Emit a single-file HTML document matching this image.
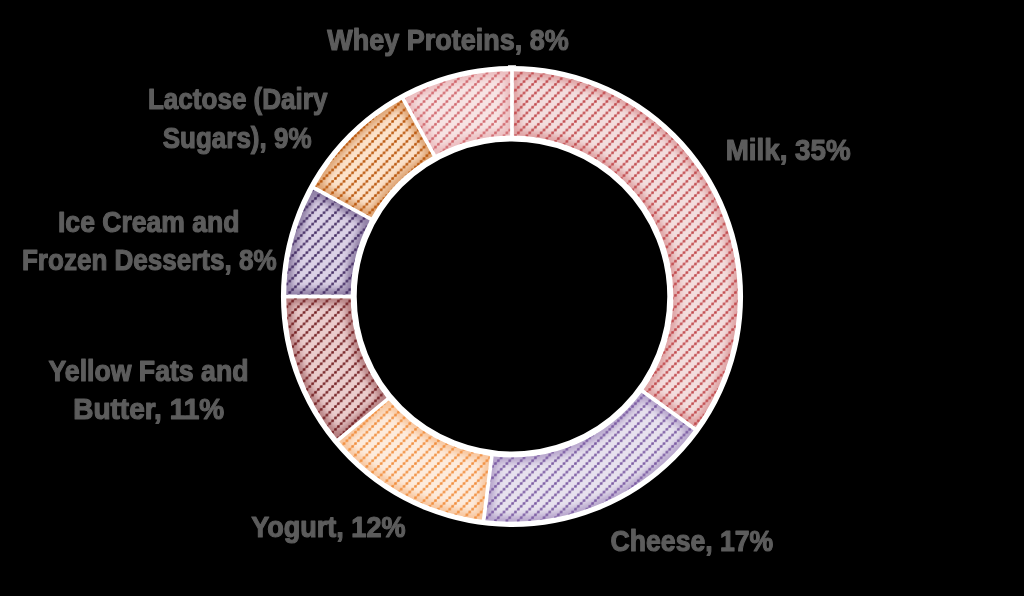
<!DOCTYPE html>
<html><head><meta charset="utf-8"><title>Chart</title>
<style>
html,body{margin:0;padding:0;background:#000;}
body{width:1024px;height:596px;overflow:hidden;}
svg{display:block;}
text{font-family:"Liberation Sans",sans-serif;font-weight:bold;font-size:30px;fill:#5c5c5c;stroke:#5c5c5c;stroke-width:1.2px;stroke-linejoin:round;}
</style></head><body>
<svg width="1024" height="596" viewBox="0 0 1024 596">
<defs>
<pattern id="p-milk" width="11.415" height="11.415" patternUnits="userSpaceOnUse" patternTransform="translate(733.77 282.51)"><path d="M-1.00 12.41L12.41 -1.00" stroke="#c0474a" stroke-width="1.3" opacity="0.38"/><rect x="0.18" y="8.74" width="2.50" height="2.50" rx="0.35" fill="#c0474a"/><rect x="3.03" y="5.88" width="2.50" height="2.50" rx="0.35" fill="#c0474a"/><rect x="5.88" y="3.03" width="2.50" height="2.50" rx="0.35" fill="#c0474a"/><rect x="8.74" y="0.18" width="2.50" height="2.50" rx="0.35" fill="#c0474a"/></pattern>
<pattern id="p-cheese" width="11.415" height="11.415" patternUnits="userSpaceOnUse" patternTransform="translate(733.77 282.51)"><path d="M-1.00 12.41L12.41 -1.00" stroke="#7a5aa2" stroke-width="1.3" opacity="0.38"/><rect x="0.18" y="8.74" width="2.50" height="2.50" rx="0.35" fill="#7a5aa2"/><rect x="3.03" y="5.88" width="2.50" height="2.50" rx="0.35" fill="#7a5aa2"/><rect x="5.88" y="3.03" width="2.50" height="2.50" rx="0.35" fill="#7a5aa2"/><rect x="8.74" y="0.18" width="2.50" height="2.50" rx="0.35" fill="#7a5aa2"/></pattern>
<pattern id="p-yogurt" width="11.415" height="11.415" patternUnits="userSpaceOnUse" patternTransform="translate(733.77 282.51)"><path d="M-1.00 12.41L12.41 -1.00" stroke="#f18d3c" stroke-width="1.3" opacity="0.38"/><rect x="0.18" y="8.74" width="2.50" height="2.50" rx="0.35" fill="#f18d3c"/><rect x="3.03" y="5.88" width="2.50" height="2.50" rx="0.35" fill="#f18d3c"/><rect x="5.88" y="3.03" width="2.50" height="2.50" rx="0.35" fill="#f18d3c"/><rect x="8.74" y="0.18" width="2.50" height="2.50" rx="0.35" fill="#f18d3c"/></pattern>
<pattern id="p-yfats" width="11.415" height="11.415" patternUnits="userSpaceOnUse" patternTransform="translate(733.77 282.51)"><path d="M-1.00 12.41L12.41 -1.00" stroke="#711d20" stroke-width="1.3" opacity="0.38"/><rect x="0.18" y="8.74" width="2.50" height="2.50" rx="0.35" fill="#711d20"/><rect x="3.03" y="5.88" width="2.50" height="2.50" rx="0.35" fill="#711d20"/><rect x="5.88" y="3.03" width="2.50" height="2.50" rx="0.35" fill="#711d20"/><rect x="8.74" y="0.18" width="2.50" height="2.50" rx="0.35" fill="#711d20"/></pattern>
<pattern id="p-ice" width="11.415" height="11.415" patternUnits="userSpaceOnUse" patternTransform="translate(733.77 282.51)"><path d="M-1.00 12.41L12.41 -1.00" stroke="#432b62" stroke-width="1.3" opacity="0.38"/><rect x="0.18" y="8.74" width="2.50" height="2.50" rx="0.35" fill="#432b62"/><rect x="3.03" y="5.88" width="2.50" height="2.50" rx="0.35" fill="#432b62"/><rect x="5.88" y="3.03" width="2.50" height="2.50" rx="0.35" fill="#432b62"/><rect x="8.74" y="0.18" width="2.50" height="2.50" rx="0.35" fill="#432b62"/></pattern>
<pattern id="p-lact" width="11.415" height="11.415" patternUnits="userSpaceOnUse" patternTransform="translate(733.77 282.51)"><path d="M-1.00 12.41L12.41 -1.00" stroke="#b85206" stroke-width="1.3" opacity="0.38"/><rect x="0.18" y="8.74" width="2.50" height="2.50" rx="0.35" fill="#b85206"/><rect x="3.03" y="5.88" width="2.50" height="2.50" rx="0.35" fill="#b85206"/><rect x="5.88" y="3.03" width="2.50" height="2.50" rx="0.35" fill="#b85206"/><rect x="8.74" y="0.18" width="2.50" height="2.50" rx="0.35" fill="#b85206"/></pattern>
<pattern id="p-whey" width="11.415" height="11.415" patternUnits="userSpaceOnUse" patternTransform="translate(733.77 282.51)"><path d="M-1.00 12.41L12.41 -1.00" stroke="#d0646a" stroke-width="1.3" opacity="0.38"/><rect x="0.18" y="8.74" width="2.50" height="2.50" rx="0.35" fill="#d0646a"/><rect x="3.03" y="5.88" width="2.50" height="2.50" rx="0.35" fill="#d0646a"/><rect x="5.88" y="3.03" width="2.50" height="2.50" rx="0.35" fill="#d0646a"/><rect x="8.74" y="0.18" width="2.50" height="2.50" rx="0.35" fill="#d0646a"/></pattern>
<filter id="tb" x="-5%" y="-5%" width="110%" height="110%"><feGaussianBlur stdDeviation="0.3"/></filter>
<filter id="bl" x="-20%" y="-20%" width="140%" height="140%"><feGaussianBlur stdDeviation="3.6"/></filter>
<clipPath id="c-milk"><path d="M513.90 71.01A225.5 225.5 0 0 1 695.54 427.50L643.52 389.71A161.2 161.2 0 0 0 513.90 135.31Z"/></clipPath>
<clipPath id="c-cheese"><path d="M693.31 430.58A225.5 225.5 0 0 1 485.62 520.45L493.68 456.66A161.2 161.2 0 0 0 641.29 392.78Z"/></clipPath>
<clipPath id="c-yogurt"><path d="M481.85 519.98A225.5 225.5 0 0 1 339.47 441.70L389.01 400.71A161.2 161.2 0 0 0 489.91 456.18Z"/></clipPath>
<clipPath id="c-yfats"><path d="M337.04 438.77A225.5 225.5 0 0 1 286.51 298.40L350.81 298.40A161.2 161.2 0 0 0 386.59 397.78Z"/></clipPath>
<clipPath id="c-ice"><path d="M286.51 294.60A225.5 225.5 0 0 1 313.48 189.53L369.83 220.51A161.2 161.2 0 0 0 350.81 294.60Z"/></clipPath>
<clipPath id="c-lact"><path d="M315.32 186.20A225.5 225.5 0 0 1 401.70 99.82L432.68 156.16A161.2 161.2 0 0 0 371.66 217.18Z"/></clipPath>
<clipPath id="c-whey"><path d="M405.03 97.98A225.5 225.5 0 0 1 510.10 71.01L510.10 135.31A161.2 161.2 0 0 0 436.01 154.33Z"/></clipPath>
</defs>
<rect width="1024" height="596" fill="#000"/>
<g transform="translate(512 296.5) scale(1.0011 0.9989) translate(-512 -296.5)">
<circle cx="512.0" cy="296.5" r="192.95" fill="none" stroke="#fff" stroke-width="75.70"/>
<path d="M507.80 66.00L508.10 65.10L515.90 65.10L516.20 66.00Z" fill="#fff"/>
<path d="M513.90 71.01A225.5 225.5 0 0 1 695.54 427.50L643.52 389.71A161.2 161.2 0 0 0 513.90 135.31Z" fill="#f3dddd"/>
<g clip-path="url(#c-milk)"><path d="M513.90 71.01A225.5 225.5 0 0 1 695.54 427.50L643.52 389.71A161.2 161.2 0 0 0 513.90 135.31Z" fill="none" stroke="#c0474a" stroke-width="11" opacity="0.4" filter="url(#bl)"/></g>
<path d="M513.90 71.01A225.5 225.5 0 0 1 695.54 427.50L643.52 389.71A161.2 161.2 0 0 0 513.90 135.31Z" fill="url(#p-milk)"/>
<path d="M693.31 430.58A225.5 225.5 0 0 1 485.62 520.45L493.68 456.66A161.2 161.2 0 0 0 641.29 392.78Z" fill="#e7e1ee"/>
<g clip-path="url(#c-cheese)"><path d="M693.31 430.58A225.5 225.5 0 0 1 485.62 520.45L493.68 456.66A161.2 161.2 0 0 0 641.29 392.78Z" fill="none" stroke="#7a5aa2" stroke-width="11" opacity="0.45" filter="url(#bl)"/></g>
<path d="M693.31 430.58A225.5 225.5 0 0 1 485.62 520.45L493.68 456.66A161.2 161.2 0 0 0 641.29 392.78Z" fill="url(#p-cheese)"/>
<path d="M481.85 519.98A225.5 225.5 0 0 1 339.47 441.70L389.01 400.71A161.2 161.2 0 0 0 489.91 456.18Z" fill="#fdebdc"/>
<g clip-path="url(#c-yogurt)"><path d="M481.85 519.98A225.5 225.5 0 0 1 339.47 441.70L389.01 400.71A161.2 161.2 0 0 0 489.91 456.18Z" fill="none" stroke="#f18d3c" stroke-width="11" opacity="0.4" filter="url(#bl)"/></g>
<path d="M481.85 519.98A225.5 225.5 0 0 1 339.47 441.70L389.01 400.71A161.2 161.2 0 0 0 489.91 456.18Z" fill="url(#p-yogurt)"/>
<path d="M337.04 438.77A225.5 225.5 0 0 1 286.51 298.40L350.81 298.40A161.2 161.2 0 0 0 386.59 397.78Z" fill="#ebcccc"/>
<g clip-path="url(#c-yfats)"><path d="M337.04 438.77A225.5 225.5 0 0 1 286.51 298.40L350.81 298.40A161.2 161.2 0 0 0 386.59 397.78Z" fill="none" stroke="#711d20" stroke-width="11" opacity="0.45" filter="url(#bl)"/></g>
<path d="M337.04 438.77A225.5 225.5 0 0 1 286.51 298.40L350.81 298.40A161.2 161.2 0 0 0 386.59 397.78Z" fill="url(#p-yfats)"/>
<path d="M286.51 294.60A225.5 225.5 0 0 1 313.48 189.53L369.83 220.51A161.2 161.2 0 0 0 350.81 294.60Z" fill="#dbd1e6"/>
<g clip-path="url(#c-ice)"><path d="M286.51 294.60A225.5 225.5 0 0 1 313.48 189.53L369.83 220.51A161.2 161.2 0 0 0 350.81 294.60Z" fill="none" stroke="#432b62" stroke-width="11" opacity="0.5" filter="url(#bl)"/></g>
<path d="M286.51 294.60A225.5 225.5 0 0 1 313.48 189.53L369.83 220.51A161.2 161.2 0 0 0 350.81 294.60Z" fill="url(#p-ice)"/>
<path d="M315.32 186.20A225.5 225.5 0 0 1 401.70 99.82L432.68 156.16A161.2 161.2 0 0 0 371.66 217.18Z" fill="#fce2ca"/>
<g clip-path="url(#c-lact)"><path d="M315.32 186.20A225.5 225.5 0 0 1 401.70 99.82L432.68 156.16A161.2 161.2 0 0 0 371.66 217.18Z" fill="none" stroke="#b85206" stroke-width="11" opacity="0.45" filter="url(#bl)"/></g>
<path d="M315.32 186.20A225.5 225.5 0 0 1 401.70 99.82L432.68 156.16A161.2 161.2 0 0 0 371.66 217.18Z" fill="url(#p-lact)"/>
<path d="M405.03 97.98A225.5 225.5 0 0 1 510.10 71.01L510.10 135.31A161.2 161.2 0 0 0 436.01 154.33Z" fill="#f7e3e3"/>
<g clip-path="url(#c-whey)"><path d="M405.03 97.98A225.5 225.5 0 0 1 510.10 71.01L510.10 135.31A161.2 161.2 0 0 0 436.01 154.33Z" fill="none" stroke="#d0646a" stroke-width="11" opacity="0.3" filter="url(#bl)"/></g>
<path d="M405.03 97.98A225.5 225.5 0 0 1 510.10 71.01L510.10 135.31A161.2 161.2 0 0 0 436.01 154.33Z" fill="url(#p-whey)"/>
</g>
<g filter="url(#tb)">
<text x="327.35" y="49.5" font-size="29.4" textLength="241.33" lengthAdjust="spacingAndGlyphs">Whey Proteins, 8%</text>
<text x="725.69" y="160.4" font-size="33.0" textLength="124.94" lengthAdjust="spacingAndGlyphs">Milk, 35%</text>
<text x="610.60" y="551.4" font-size="32.6" textLength="162.69" lengthAdjust="spacingAndGlyphs">Cheese, 17%</text>
<text x="251.15" y="537.3" font-size="33.0" textLength="154.40" lengthAdjust="spacingAndGlyphs">Yogurt, 12%</text>
<text x="48.52" y="380.8" font-size="29.8" textLength="199.93" lengthAdjust="spacingAndGlyphs">Yellow Fats and</text>
<text x="73.18" y="419.1" font-size="29.6" textLength="151.05" lengthAdjust="spacingAndGlyphs">Butter, 11%</text>
<text x="58.00" y="231.5" font-size="31.6" textLength="181.37" lengthAdjust="spacingAndGlyphs">Ice Cream and</text>
<text x="21.96" y="270.3" font-size="30.0" textLength="254.65" lengthAdjust="spacingAndGlyphs">Frozen Desserts, 8%</text>
<text x="147.93" y="108.5" font-size="29.4" textLength="179.52" lengthAdjust="spacingAndGlyphs">Lactose (Dairy</text>
<text x="162.80" y="148.1" font-size="29.4" textLength="148.71" lengthAdjust="spacingAndGlyphs">Sugars), 9%</text>
</g>
</svg>
</body></html>
